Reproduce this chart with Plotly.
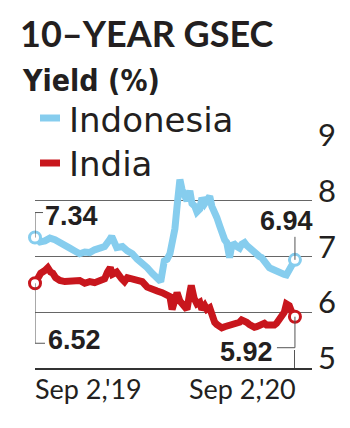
import plotly.graph_objects as go

# ---------------- data ----------------
indo_dates = [
    "2019-09-02", "2019-09-09", "2019-09-16", "2019-09-23", "2019-09-30", "2019-10-07",
    "2019-10-14", "2019-10-21", "2019-10-28", "2019-11-04", "2019-11-11", "2019-11-18",
    "2019-11-25", "2019-12-02", "2019-12-09", "2019-12-16", "2019-12-19", "2019-12-26",
    "2020-01-03", "2020-01-10", "2020-01-17", "2020-01-24", "2020-01-31", "2020-02-07",
    "2020-02-14", "2020-02-21", "2020-02-26", "2020-03-02", "2020-03-06", "2020-03-10",
    "2020-03-13", "2020-03-17", "2020-03-20", "2020-03-24", "2020-03-27", "2020-03-31",
    "2020-04-03", "2020-04-07", "2020-04-10", "2020-04-14", "2020-04-17", "2020-04-21",
    "2020-04-24", "2020-04-28", "2020-05-01", "2020-05-05", "2020-05-08", "2020-05-12",
    "2020-05-15", "2020-05-19", "2020-05-22", "2020-05-26", "2020-05-29", "2020-06-02",
    "2020-06-05", "2020-06-09", "2020-06-12", "2020-06-16", "2020-06-19", "2020-06-23",
    "2020-06-26", "2020-06-30", "2020-07-03", "2020-07-07", "2020-07-10", "2020-07-14",
    "2020-07-17", "2020-07-21", "2020-07-24", "2020-07-28", "2020-07-31", "2020-08-04",
    "2020-08-07", "2020-08-11", "2020-08-14", "2020-08-18", "2020-08-21", "2020-08-25",
    "2020-08-28", "2020-09-02",
]
indo_vals = [
    7.34, 7.26, 7.28, 7.33, 7.30, 7.26,
    7.20, 7.15, 7.10, 7.05, 7.08, 7.07,
    7.12, 7.14, 7.18, 7.30, 7.36, 7.16,
    7.18, 7.10, 7.05, 6.95, 6.88, 6.80,
    6.70, 6.62, 6.55, 6.92, 6.95, 7.05,
    7.20, 7.50, 7.90, 8.38, 8.20, 8.10,
    8.00, 8.18, 7.95, 7.90, 7.80, 7.85,
    8.05, 7.95, 8.00, 8.08, 7.90, 7.80,
    7.70, 7.55, 7.40, 7.30, 7.25, 6.98,
    7.20, 7.22, 7.18, 7.15, 7.22, 7.25,
    7.20, 7.15, 7.12, 7.05, 7.02, 7.00,
    6.98, 6.90, 6.85, 6.80, 6.78, 6.75,
    6.76, 6.72, 6.70, 6.68, 6.67, 6.75,
    6.85, 6.94,
]

india_dates = [
    "2019-09-02", "2019-09-06", "2019-09-10", "2019-09-16", "2019-09-20", "2019-09-24",
    "2019-09-27", "2019-10-01", "2019-10-07", "2019-10-14", "2019-10-21", "2019-10-28",
    "2019-11-04", "2019-11-11", "2019-11-18", "2019-11-25", "2019-12-02", "2019-12-09",
    "2019-12-13", "2019-12-17", "2019-12-20", "2019-12-26", "2020-01-02", "2020-01-06",
    "2020-01-10", "2020-01-17", "2020-01-24", "2020-01-31", "2020-02-07", "2020-02-14",
    "2020-02-21", "2020-02-28", "2020-03-05", "2020-03-10", "2020-03-13", "2020-03-17",
    "2020-03-20", "2020-03-24", "2020-03-27", "2020-03-31", "2020-04-03", "2020-04-07",
    "2020-04-09", "2020-04-13", "2020-04-17", "2020-04-21", "2020-04-24", "2020-04-28",
    "2020-05-01", "2020-05-05", "2020-05-08", "2020-05-12", "2020-05-15", "2020-05-19",
    "2020-05-22", "2020-05-26", "2020-05-29", "2020-06-02", "2020-06-05", "2020-06-09",
    "2020-06-12", "2020-06-16", "2020-06-19", "2020-06-23", "2020-06-26", "2020-06-30",
    "2020-07-03", "2020-07-07", "2020-07-10", "2020-07-14", "2020-07-17", "2020-07-21",
    "2020-07-24", "2020-07-28", "2020-07-31", "2020-08-04", "2020-08-07", "2020-08-11",
    "2020-08-14", "2020-08-18", "2020-08-21", "2020-08-25", "2020-08-28", "2020-09-02",
]
india_vals = [
    6.52, 6.62, 6.70, 6.75, 6.80, 6.72,
    6.70, 6.62, 6.57, 6.55, 6.55, 6.58,
    6.57, 6.52, 6.55, 6.53, 6.56, 6.60,
    6.72, 6.80, 6.68, 6.72, 6.60, 6.55,
    6.62, 6.60, 6.58, 6.55, 6.45, 6.40,
    6.38, 6.35, 6.30, 6.28, 6.05, 6.20,
    6.35, 6.20, 6.15, 6.08, 6.05, 6.35,
    6.48, 6.25, 6.15, 6.18, 6.05, 6.12,
    6.05, 6.08, 5.95, 5.82, 5.78, 5.73,
    5.72, 5.74, 5.75, 5.75, 5.77, 5.78,
    5.80, 5.82, 5.86, 5.85, 5.82, 5.78,
    5.75, 5.73, 5.74, 5.77, 5.78, 5.80,
    5.77, 5.76, 5.78, 5.77, 5.80, 5.88,
    5.92, 6.00, 6.15, 6.12, 6.02, 5.92,
]

y_tick_vals = [5, 6, 7, 8, 9]
x_tick_dates = ["2019-09-02", "2020-09-02"]
x_tick_labels = ["Sep 2,'19", "Sep 2,'20"]
series_names = ["Indonesia", "India"]

# ---------------- styling ----------------
W, H = 350, 428
BLUE = "#86cdee"
RED = "#c8161d"
TXT = "#231f20"
NARROW = "Lato, DejaVu Sans Condensed, sans-serif"
WIDE = "DejaVu Sans, Open Sans, sans-serif"


def px(x):
    return x / W


def py(y):
    return 1 - y / H


fig = go.Figure()
for dates, vals, color in [(indo_dates, indo_vals, BLUE), (india_dates, india_vals, RED)]:
    fig.add_trace(go.Scatter(
        x=dates, y=vals, mode="lines",
        line=dict(color=color, width=7),
        cliponaxis=False, hoverinfo="skip",
    ))
    fig.add_trace(go.Scatter(
        x=[dates[0], dates[-1]], y=[vals[0], vals[-1]], mode="markers",
        marker=dict(size=11, color="white", line=dict(color=color, width=3)),
        cliponaxis=False, hoverinfo="skip",
    ))

shapes = []


def bracket(xd, yv, pts):
    for (a, b), (c, d) in zip(pts[:-1], pts[1:]):
        shapes.append(dict(
            type="line", xref="x", yref="y", xsizemode="pixel", ysizemode="pixel",
            xanchor=xd, yanchor=yv, x0=a, y0=b, x1=c, y1=d,
            line=dict(color="#555", width=1),
        ))


bracket(indo_dates[0], indo_vals[0], [(0, 0), (0, 25), (8, 25)])
bracket(indo_dates[-1], indo_vals[-1], [(0, 0), (0, 23)])
bracket(india_dates[0], india_vals[0], [(0, 0), (0, -60), (10, -60)])
bracket(india_dates[-1], india_vals[-1], [(0, 0), (0, -31), (-18, -31)])

# legend swatches
for yy, color in [(118, BLUE), (163, RED)]:
    shapes.append(dict(type="line", xref="paper", yref="paper",
                       x0=px(40), x1=px(60), y0=py(yy), y1=py(yy),
                       line=dict(color=color, width=7)))

annotations = []
annotations.append(dict(text="<b>10–YEAR GSEC</b>", x=px(18), y=py(33), xref="paper", yref="paper",
                        xanchor="left", yanchor="middle", showarrow=False,
                        font=dict(family="Lato, sans-serif", size=36, color=TXT)))
annotations.append(dict(text="<b>Yield (%)</b>", x=px(20), y=py(80), xref="paper", yref="paper",
                        xanchor="left", yanchor="middle", showarrow=False,
                        font=dict(family="DejaVu Sans Condensed, sans-serif", size=30, color=TXT)))
for name, yy in zip(series_names, [120, 164]):
    annotations.append(dict(text=name, x=px(67), y=py(yy), xref="paper", yref="paper",
                            xanchor="left", yanchor="middle", showarrow=False,
                            font=dict(family=WIDE, size=34, color=TXT)))

# value labels
val_font = dict(family="Liberation Sans, Arial, sans-serif", size=27, color=TXT)
annotations.append(dict(text=f"<b>{indo_vals[0]:.2f}</b>", x=indo_dates[0], y=indo_vals[0],
                        xanchor="left", yanchor="middle", xshift=8, yshift=22,
                        showarrow=False, font=val_font))
annotations.append(dict(text=f"<b>{indo_vals[-1]:.2f}</b>", x=indo_dates[-1], y=indo_vals[-1],
                        xanchor="right", yanchor="middle", xshift=20, yshift=39,
                        showarrow=False, font=val_font))
annotations.append(dict(text=f"<b>{india_vals[0]:.2f}</b>", x=india_dates[0], y=india_vals[0],
                        xanchor="left", yanchor="middle", xshift=11, yshift=-57,
                        showarrow=False, font=val_font))
annotations.append(dict(text=f"<b>{india_vals[-1]:.2f}</b>", x=india_dates[-1], y=india_vals[-1],
                        xanchor="right", yanchor="middle", xshift=-20, yshift=-35,
                        showarrow=False, font=val_font))

# y tick labels (right side, sitting on gridlines)
for v in y_tick_vals:
    annotations.append(dict(text=str(v), x=px(316), y=v, xref="paper", yref="y",
                            xanchor="left", yanchor="bottom", yshift=-10, showarrow=False,
                            font=dict(family=NARROW, size=31, color=TXT)))

# x tick labels
for d, lab, anc, sh in zip(x_tick_dates, x_tick_labels, ["left", "right"], [-2, 3]):
    annotations.append(dict(text=lab, x=d, y=py(388), xref="x", yref="paper",
                            xanchor=anc, yanchor="middle", xshift=sh, showarrow=False,
                            font=dict(family=NARROW, size=27, color=TXT)))

fig.update_layout(
    width=W, height=H, margin=dict(l=0, r=0, t=0, b=0),
    paper_bgcolor="white", plot_bgcolor="white", showlegend=False,
    xaxis=dict(domain=[px(35), px(312)], range=["2019-09-02", "2020-09-26"],
               type="date", showgrid=False, zeroline=False,
               showline=True, linecolor="#333", linewidth=1.5,
               ticks="inside", ticklen=18, tickcolor="#555", tickwidth=1,
               tickvals=x_tick_dates, showticklabels=False, fixedrange=True),
    yaxis=dict(domain=[py(368), py(145)], range=[5, 9],
               showgrid=True, gridcolor="#666", gridwidth=1,
               tickvals=[6, 7, 8, 9], showticklabels=False, zeroline=False,
               showline=False, ticks="", fixedrange=True),
    shapes=shapes, annotations=annotations,
)

fig.write_html("out.html")
